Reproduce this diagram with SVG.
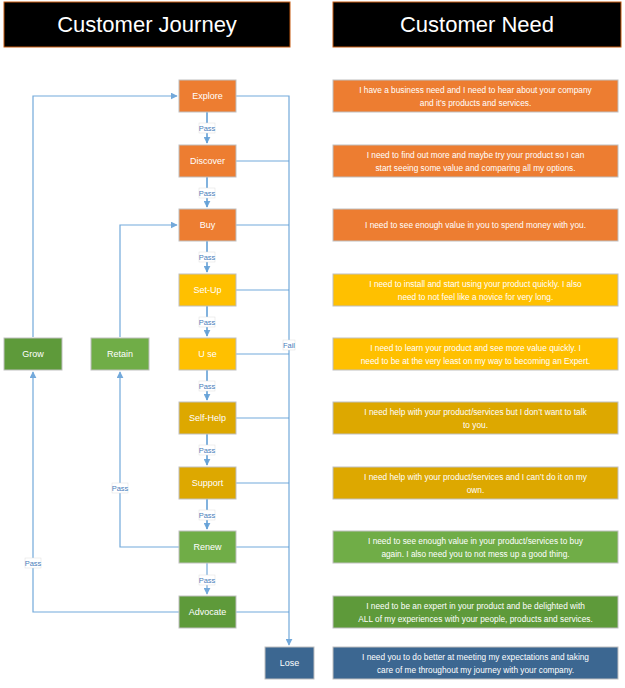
<svg xmlns="http://www.w3.org/2000/svg" width="625" height="688" viewBox="0 0 625 688">
<defs>
<marker id="ar" viewBox="0 0 10 10" refX="9" refY="5" markerWidth="7" markerHeight="7" orient="auto" markerUnits="userSpaceOnUse"><path d="M0,0L10,5L0,10z" fill="#5B9BD5"/></marker>
<style>
.n{stroke:#BFBFBF;stroke-width:1}
.t{font-family:"Liberation Sans",Arial,sans-serif;font-size:9px;fill:#fff;text-anchor:middle}
.r{font-family:"Liberation Sans",Arial,sans-serif;font-size:8.3px;fill:#fff;text-anchor:middle}
.c{fill:none;stroke:#5B9BD5;stroke-width:1.2;opacity:.85}
.lb{font-family:"Liberation Sans",Arial,sans-serif;font-size:7.5px;fill:#4A7EBB;text-anchor:middle}
.h{font-family:"Liberation Sans",Arial,sans-serif;font-size:22px;fill:#fff;text-anchor:middle}
.o{fill:#ED7D31}.y{fill:#FFC000}.d{fill:#DDA800}.g{fill:#70AD47}.dg{fill:#5E9A3A}.b{fill:#3C6791}
</style>
</defs>
<rect width="625" height="688" fill="#fff"/>
<g id="hdr1"><rect x="4" y="2" width="286" height="45" fill="#000" stroke="#C55A11"/><text class="h" x="147" y="32">Customer Journey</text></g>
<g id="hdr2"><rect x="333" y="2" width="288" height="45" fill="#000" stroke="#C55A11"/><text class="h" x="477" y="32">Customer Need</text></g>
<g id="connectors">
<path class="c" d="M236,96H289V645" marker-end="url(#ar)"/>
<path class="c" d="M236,161H289M236,225H289M236,290H289M236,354H289M236,418H289M236,483H289M236,547H289M236,612H289"/>
<path class="c" d="M207,112V143M207,177V207M207,241V272M207,306V336M207,370V400M207,434V465M207,499V529M207,563V594" marker-end="url(#ar)"/>
<path class="c" d="M207,112V143" marker-end="url(#ar)"/>
<path class="c" d="M207,177V207" marker-end="url(#ar)"/>
<path class="c" d="M207,241V272" marker-end="url(#ar)"/>
<path class="c" d="M207,306V336" marker-end="url(#ar)"/>
<path class="c" d="M207,370V400" marker-end="url(#ar)"/>
<path class="c" d="M207,434V465" marker-end="url(#ar)"/>
<path class="c" d="M207,499V529" marker-end="url(#ar)"/>
<path class="c" d="M179,612H33V372" marker-end="url(#ar)"/>
<path class="c" d="M33,337V96H177" marker-end="url(#ar)"/>
<path class="c" d="M179,547H120V372" marker-end="url(#ar)"/>
<path class="c" d="M120,337V225H177" marker-end="url(#ar)"/>
<g>
<rect x="199" y="123" width="16" height="10" fill="#fff" stroke="#ddd" stroke-width=".5"/><text class="lb" x="207" y="131">Pass</text>
<rect x="199" y="188" width="16" height="10" fill="#fff" stroke="#ddd" stroke-width=".5"/><text class="lb" x="207" y="196">Pass</text>
<rect x="199" y="252" width="16" height="10" fill="#fff" stroke="#ddd" stroke-width=".5"/><text class="lb" x="207" y="260">Pass</text>
<rect x="199" y="317" width="16" height="10" fill="#fff" stroke="#ddd" stroke-width=".5"/><text class="lb" x="207" y="325">Pass</text>
<rect x="199" y="381" width="16" height="10" fill="#fff" stroke="#ddd" stroke-width=".5"/><text class="lb" x="207" y="389">Pass</text>
<rect x="199" y="445" width="16" height="10" fill="#fff" stroke="#ddd" stroke-width=".5"/><text class="lb" x="207" y="453">Pass</text>
<rect x="199" y="510" width="16" height="10" fill="#fff" stroke="#ddd" stroke-width=".5"/><text class="lb" x="207" y="518">Pass</text>
<rect x="199" y="575" width="16" height="10" fill="#fff" stroke="#ddd" stroke-width=".5"/><text class="lb" x="207" y="583">Pass</text>
<rect x="112" y="483" width="16" height="10" fill="#fff" stroke="#ddd" stroke-width=".5"/><text class="lb" x="120" y="491">Pass</text>
<rect x="25" y="558" width="16" height="10" fill="#fff" stroke="#ddd" stroke-width=".5"/><text class="lb" x="33" y="566">Pass</text>
<rect x="283" y="340" width="12" height="10" fill="#fff" stroke="#ddd" stroke-width=".5"/><text class="lb" x="289" y="348">Fail</text>
</g>
</g>
<g id="explore"><rect class="n o" x="179" y="80" width="57" height="32"/><text class="t" x="207.5" y="99">Explore</text></g>
<g id="discover"><rect class="n o" x="179" y="145" width="57" height="32"/><text class="t" x="207.5" y="164">Discover</text></g>
<g id="buy"><rect class="n o" x="179" y="209" width="57" height="32"/><text class="t" x="207.5" y="228">Buy</text></g>
<g id="setup"><rect class="n y" x="179" y="274" width="57" height="32"/><text class="t" x="207.5" y="293">Set-Up</text></g>
<g id="use"><rect class="n y" x="179" y="338" width="57" height="32"/><text class="t" x="207.5" y="357">U se</text></g>
<g id="selfhelp"><rect class="n d" x="179" y="402" width="57" height="32"/><text class="t" x="207.5" y="421">Self-Help</text></g>
<g id="support"><rect class="n d" x="179" y="467" width="57" height="32"/><text class="t" x="207.5" y="486">Support</text></g>
<g id="renew"><rect class="n g" x="179" y="531" width="57" height="32"/><text class="t" x="207.5" y="550">Renew</text></g>
<g id="advocate"><rect class="n dg" x="179" y="596" width="57" height="32"/><text class="t" x="207.5" y="615">Advocate</text></g>
<g id="grow"><rect class="n dg" x="4" y="338" width="58" height="32"/><text class="t" x="33" y="357">Grow</text></g>
<g id="retain"><rect class="n g" x="91" y="338" width="58" height="32"/><text class="t" x="120" y="357">Retain</text></g>
<g id="lose"><rect class="n b" x="265" y="647" width="49" height="32"/><text class="t" x="289.5" y="666">Lose</text></g>
<g id="need-explore"><rect class="n o" x="333" y="80" width="285" height="32"/><text class="r" x="475.5" y="93">I have a business need and I need to hear about your company</text><text class="r" x="475.5" y="106">and it’s products and services.</text></g>
<g id="need-discover"><rect class="n o" x="333" y="145" width="285" height="32"/><text class="r" x="475.5" y="158">I need to find out more and maybe try your product so I can</text><text class="r" x="475.5" y="171">start seeing some value and comparing all my options.</text></g>
<g id="need-buy"><rect class="n o" x="333" y="209" width="285" height="32"/><text class="r" x="475.5" y="228">I need to see enough value in you to spend money with you.</text></g>
<g id="need-setup"><rect class="n y" x="333" y="274" width="285" height="32"/><text class="r" x="475.5" y="287">I need to install and start using your product quickly.  I also</text><text class="r" x="475.5" y="300">need to not feel like a novice for very long.</text></g>
<g id="need-use"><rect class="n y" x="333" y="338" width="285" height="32"/><text class="r" x="475.5" y="351">I need to learn your product and see more value quickly.  I</text><text class="r" x="475.5" y="364">need to be at the very least on my way to becoming an Expert.</text></g>
<g id="need-selfhelp"><rect class="n d" x="333" y="402" width="285" height="32"/><text class="r" x="475.5" y="415">I need help with your product/services but I don’t want to talk</text><text class="r" x="475.5" y="428">to you.</text></g>
<g id="need-support"><rect class="n d" x="333" y="467" width="285" height="32"/><text class="r" x="475.5" y="480">I need help with your product/services and I can’t do it on my</text><text class="r" x="475.5" y="493">own.</text></g>
<g id="need-renew"><rect class="n g" x="333" y="531" width="285" height="32"/><text class="r" x="475.5" y="544">I need to see enough value in your product/services to buy</text><text class="r" x="475.5" y="557">again.  I also need you to not mess up a good thing.</text></g>
<g id="need-advocate"><rect class="n dg" x="333" y="596" width="285" height="32"/><text class="r" x="475.5" y="609">I need to be an expert in your product and be delighted with</text><text class="r" x="475.5" y="622">ALL of my experiences with your people, products and services.</text></g>
<g id="need-lose"><rect class="n b" x="333" y="647" width="285" height="32"/><text class="r" x="475.5" y="660">I need you to do better at meeting my expectations and taking</text><text class="r" x="475.5" y="673">care of me throughout my journey with your company.</text></g>
</svg>
